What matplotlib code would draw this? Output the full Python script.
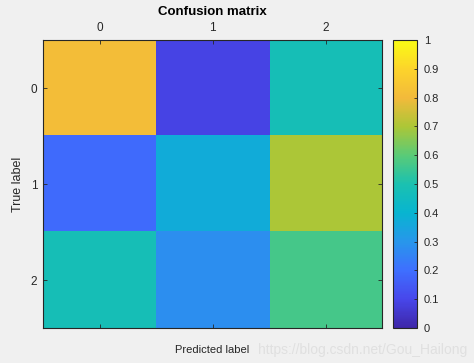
import numpy as np
import matplotlib.pyplot as plt
from matplotlib.colors import LinearSegmentedColormap

# confusion matrix values
classes = ['0', '1', '2']
row0 = [0.81, 0.09, 0.48]
row1 = [0.19, 0.37, 0.70]
row2 = [0.48, 0.28, 0.57]
cbar_ticks = [0, 0.1, 0.2, 0.3, 0.4, 0.5, 0.6, 0.7, 0.8, 0.9, 1]
cbar_labels = ['0', '0.1', '0.2', '0.3', '0.4', '0.5', '0.6', '0.7', '0.8', '0.9', '1']

# approximation of MATLAB parula
parula_colors = [
    (0.2422, 0.1504, 0.6603),
    (0.2803, 0.2782, 0.9221),
    (0.2440, 0.4358, 0.9988),
    (0.1540, 0.5902, 0.9218),
    (0.0297, 0.7082, 0.8163),
    (0.1050, 0.7560, 0.6900),
    (0.3500, 0.7950, 0.4700),
    (0.6729, 0.7788, 0.2159),
    (0.9500, 0.7300, 0.2300),
    (0.9900, 0.8300, 0.1700),
    (0.9769, 0.9839, 0.0805),
]
parula = LinearSegmentedColormap.from_list('parula', parula_colors)

plt.rcParams['font.family'] = ['Liberation Sans', 'DejaVu Sans']
bg = '#f0f0f0'
edge = '#262626'

fig = plt.figure(figsize=(4.74, 3.63), dpi=100)
fig.patch.set_facecolor(bg)
ax = fig.add_axes([0.0907, 0.0964, 0.7153, 0.7934])
cax = fig.add_axes([0.829, 0.0964, 0.0506, 0.7934])

cm = np.array([row0, row1, row2])
im = ax.imshow(cm, cmap=parula, vmin=0, vmax=1, aspect='auto', interpolation='nearest')

ax.set_xticks(range(len(classes)))
ax.set_yticks(range(len(classes)))
ax.set_xticklabels(classes)
ax.set_yticklabels(classes)
ax.tick_params(axis='x', top=True, bottom=True, labeltop=True, labelbottom=False,
               direction='in', length=3, width=0.6, colors=edge, labelsize=8.5, pad=4)
ax.tick_params(axis='y', left=True, right=True, direction='in', length=3, width=0.6,
               colors=edge, labelsize=8.5, pad=4)
for s in ax.spines.values():
    s.set_color(edge)
    s.set_linewidth(0.8)

ax.set_title('Confusion matrix', fontsize=9.5, fontweight='bold', color='black', pad=18)
ax.set_ylabel('True label', fontsize=9, color=edge, labelpad=5)
ax.set_xlabel('Predicted label', fontsize=8, color=edge, labelpad=12)

cb = fig.colorbar(im, cax=cax, ticks=cbar_ticks)
cb.ax.set_yticklabels(cbar_labels)
cb.ax.tick_params(direction='in', length=2.5, width=0.6, colors=edge, labelsize=8, pad=5)
cb.outline.set_edgecolor(edge)
cb.outline.set_linewidth(0.8)

fig.text(0.985, 0.035, 'https://blog.csdn.net/Gou_Hailong', ha='right', va='center',
         fontsize=10, color='#e0e0e0')

fig.savefig('out.png', dpi=100, facecolor=bg)
